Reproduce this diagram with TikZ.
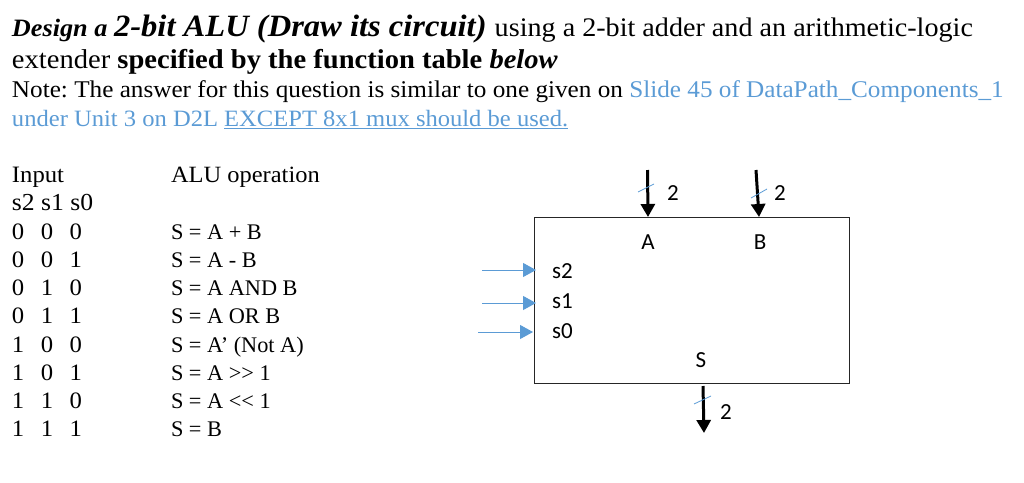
\documentclass[tikz,border=0pt]{standalone}
\usepackage{fontspec}
\usetikzlibrary{arrows.meta}
\setmainfont{Liberation Serif}[FakeStretch=1.05]
\newfontfamily\plainserif{Liberation Serif}
\newfontfamily\labelfont{Carlito}
\definecolor{linkblue}{RGB}{91,155,213}
\frenchspacing
\tikzset{
  txt/.style={anchor=base west,inner sep=0pt,outer sep=0pt,font=\fontsize{24}{28}\selectfont},
  head/.style={txt,font=\fontsize{23.5}{28}\selectfont},
  cell/.style={anchor=base west,inner sep=0pt,outer sep=0pt,font=\plainserif\fontsize{22.3}{28}\selectfont},
  lbl/.style={inner sep=0pt,font=\labelfont\fontsize{23}{24}\selectfont},
  lblw/.style={lbl,anchor=base west},
  bus/.style={line width=3pt,-{Triangle[length=13pt,width=14pt]}},
  ctrl/.style={draw=linkblue,line width=1pt,-{Triangle[length=13pt,width=14pt,fill=linkblue]}},
  tick/.style={draw=linkblue,line width=0.8pt},
  alubox/.style={draw=black!85,line width=1pt,minimum width=315pt,minimum height=166pt,inner sep=0pt}
}
\newcommand{\bitsrow}[3]{#1\hspace{16.5pt}#2\hspace{16.5pt}#3}
\newcommand{\rowl}[4]{%
  \node[head] (#1a) at (12,#2) {#3};
  \node[cell] (#1b) at (171,#2) {#4};}
\begin{document}
\begin{tikzpicture}[x=1pt,y=-1pt]
\useasboundingbox (0,0) rectangle (1024,482);
\node[txt] (t1) at (12,36) {\fontsize{25}{30}\selectfont\bfseries\itshape Design a \fontsize{31}{32}\selectfont 2-bit ALU (Draw its circuit) \fontsize{26.8}{30}\selectfont\mdseries\upshape using a 2-bit adder and an arithmetic-logic};
\node[txt] (t2) at (12,68) {\fontsize{27.2}{30}\selectfont extender \bfseries specified by the function table \itshape below};
\node[txt] (t3) at (12,97) {Note: The answer for this question is similar to one given on \textcolor{linkblue}{Slide 45 of DataPath\_Components\_1}};
\node[txt,text=linkblue,font=\fontsize{23.4}{28}\selectfont] (t4) at (12,126) {under Unit 3 on D2L \underline{EXCEPT 8x1 mux should be used.}};
\node[head] (h1) at (12,182) {Input};
\node[head,font=\fontsize{23.3}{28}\selectfont] (h2) at (171,182) {ALU operation};
\node[head,font=\fontsize{24.4}{28}\selectfont] (h3) at (12,210) {s2 s1 s0};
\rowl{r0}{239}{\bitsrow{0}{0}{0}}{S = A + B}
\rowl{r1}{267}{\bitsrow{0}{0}{1}}{S = A - B}
\rowl{r2}{295}{\bitsrow{0}{1}{0}}{S = A AND B}
\rowl{r3}{323}{\bitsrow{0}{1}{1}}{S = A OR B}
\rowl{r4}{352}{\bitsrow{1}{0}{0}}{S = A’ (Not A)}
\rowl{r5}{380}{\bitsrow{1}{0}{1}}{S = A >{}> 1}
\rowl{r6}{408}{\bitsrow{1}{1}{0}}{S = A <{}< 1}
\rowl{r7}{436}{\bitsrow{1}{1}{1}}{S = B}
\node[alubox] (alu) at (692,300) {};
\coordinate (ain) at (647.5,170);
\coordinate (bin) at (756,170);
\coordinate (sout) at (703,386);
\coordinate (aend) at (648,217);
\coordinate (bend) at (759,217);
\coordinate (send) at (704,433);
\coordinate (s2in) at (482,270);
\coordinate (s1in) at (482,303);
\coordinate (s0in) at (478,332);
\coordinate (s2end) at (536,270);
\coordinate (s1end) at (536,303);
\coordinate (s0end) at (533,332);
\draw[bus] (ain) -- (aend);
\draw[bus] (bin) -- (bend);
\draw[bus] (sout) -- (send);
\draw[ctrl] (s2in) -- (s2end);
\draw[ctrl] (s1in) -- (s1end);
\draw[ctrl] (s0in) -- (s0end);
\coordinate (ta1) at (638,192); \coordinate (ta2) at (654,184);
\coordinate (tb1) at (751,198); \coordinate (tb2) at (767,189);
\coordinate (ts1) at (694,404); \coordinate (ts2) at (711,396);
\draw[tick] (ta1) -- (ta2);
\draw[tick] (tb1) -- (tb2);
\draw[tick] (ts1) -- (ts2);
\node[lbl] (la) at (648,242) {A};
\node[lbl] (lb) at (760,242) {B};
\node[lbl] (ls) at (701,360) {S};
\node[lblw] (ls2) at (552,278) {s2};
\node[lblw] (ls1) at (552,308) {s1};
\node[lblw] (ls0) at (552,338) {s0};
\node[lblw] (na) at (667,200) {2};
\node[lblw] (nb) at (774,200) {2};
\node[lblw] (ns) at (720,419) {2};
\end{tikzpicture}
\end{document}
